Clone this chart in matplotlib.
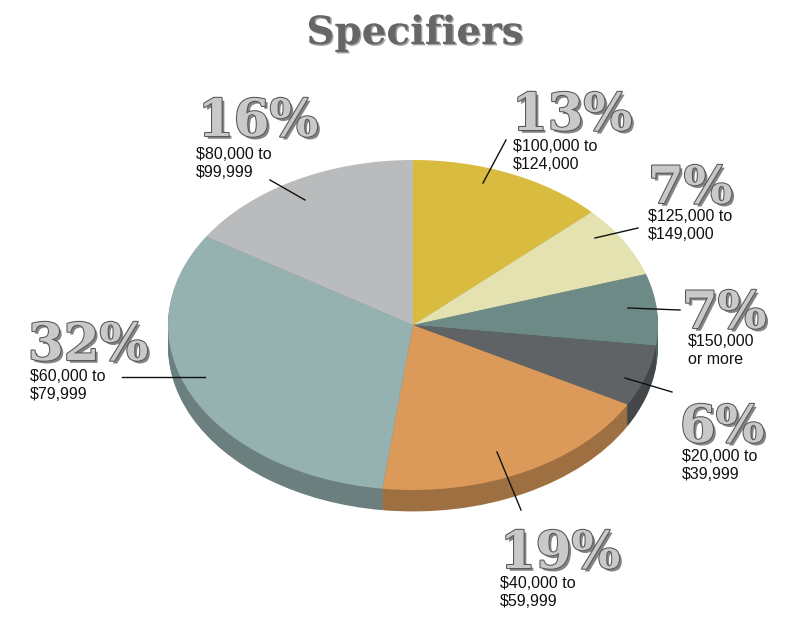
import matplotlib
matplotlib.use("Agg")
import matplotlib.pyplot as plt
import matplotlib.patheffects as pe
import numpy as np

# slices, clockwise from 12 o'clock
pcts = [13, 7, 7, 6, 19, 32, 16]
ranges = ["$100,000 to\n$124,000", "$125,000 to\n$149,000", "$150,000\nor more",
          "$20,000 to\n$39,999", "$40,000 to\n$59,999", "$60,000 to\n$79,999",
          "$80,000 to\n$99,999"]
colors = ["#d8bb3f", "#e3e2b0", "#6e8a87", "#5f6366", "#dc9a5a", "#95b1b0", "#b9bbbd"]

fig = plt.figure(figsize=(8, 6.19), dpi=100)

# pie axes stretched so the circle is drawn as an ellipse
ax = fig.add_axes([0.21, 1 - 523 / 619, 0.6125, 363 / 619])

def darker(c, f):
    r, g, b = matplotlib.colors.to_rgb(c)
    return (r * f, g * f, b * f)

side = [darker(c, 0.72) for c in colors]
depth = 0.13
for dy in np.linspace(-depth, 0, 14)[:-1]:
    ax.pie(pcts, colors=side, startangle=90, counterclock=False,
           center=(0, dy), radius=1)
ax.pie(pcts, colors=colors, startangle=90, counterclock=False,
       center=(0, 0), radius=1)
ax.set_aspect("auto")
ax.set_xlim(-1, 1)
ax.set_ylim(-1.2, 1)
ax.axis("off")

# overlay in pixel coordinates for labels
ov = fig.add_axes([0, 0, 1, 1])
ov.set_xlim(0, 800)
ov.set_ylim(619, 0)
ov.axis("off")

big_pos = [(512, 130), (648, 203), (682, 328), (680, 442), (500, 568), (28, 360), (198, 136)]
small_pos = [(513, 139), (648, 209), (688, 334), (682, 449), (500, 576), (30, 369), (196, 147)]
leaders = [((506, 140), (483, 183)), ((638, 228), (595, 238)), ((680, 310), (628, 308)),
           ((672, 392), (625, 378)), ((521, 510), (497, 452)), ((122, 377), (205, 377)),
           ((270, 180), (305, 200))]

shadow = [pe.withSimplePatchShadow(offset=(2, -2), shadow_rgbFace="#333333", alpha=0.6),
          pe.withStroke(linewidth=1.5, foreground="#555555")]

for p, r, bp, sp, ln in zip(pcts, ranges, big_pos, small_pos, leaders):
    ov.text(bp[0], bp[1], f"{p}%", fontsize=37, fontweight="black",
            family="DejaVu Serif", color="#c9c9c9", va="baseline", ha="left",
            path_effects=shadow)
    ov.text(sp[0], sp[1], r, fontsize=11.5, family="Liberation Sans",
            color="#111111", va="top", ha="left", linespacing=1.25)
    ov.plot([ln[0][0], ln[1][0]], [ln[0][1], ln[1][1]], color="#111111", lw=1)

ov.text(415, 33, "Specifiers", fontsize=28, fontweight="black", family="DejaVu Serif",
        color="#666666", ha="center", va="center",
        path_effects=[pe.withSimplePatchShadow(offset=(1, -1), alpha=0.4)])

fig.savefig("out.png", dpi=100)
